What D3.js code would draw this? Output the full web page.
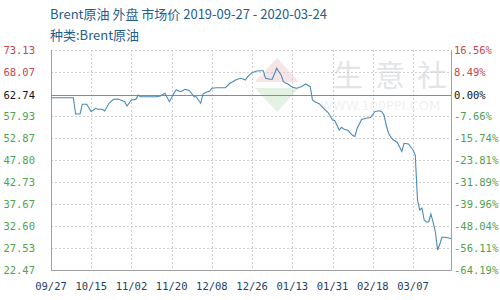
<!DOCTYPE html>
<html>
<head>
<meta charset="utf-8">
<script src="https://cdn.jsdelivr.net/npm/d3@7"></script>
<style>
  body { margin: 0; background: #fff; }
  svg { display: block; }
</style>
</head>
<body>
<script>
const title = "Brent原油 外盘 市场价 2019-09-27 - 2020-03-24";
const subtitle = "种类:Brent原油";
const basePrice = 62.74;

const yTicks = [73.13, 68.07, 62.74, 57.93, 52.87, 47.80, 42.73, 37.67, 32.60, 27.53, 22.47];
const pctTicks = ["16.56%", "8.49%", "0.00%", "-7.66%", "-15.74%", "-23.81%", "-31.89%", "-39.96%", "-48.04%", "-56.11%", "-64.19%"];
const xTicks = ["2019-09-27", "2019-10-15", "2019-11-02", "2019-11-20", "2019-12-08", "2019-12-26", "2020-01-13", "2020-01-31", "2020-02-18", "2020-03-07"];

// price readings (date, USD/bbl)
const dates = [
  "2019-09-27", "2019-10-07", "2019-10-08", "2019-10-10", "2019-10-11", "2019-10-13", "2019-10-15", "2019-10-17",
  "2019-10-18", "2019-10-20", "2019-10-21", "2019-10-23", "2019-10-25", "2019-10-27", "2019-10-29", "2019-10-30",
  "2019-10-31", "2019-11-02", "2019-11-04", "2019-11-05", "2019-11-06", "2019-11-08", "2019-11-11", "2019-11-13",
  "2019-11-15", "2019-11-17", "2019-11-19", "2019-11-21", "2019-11-22", "2019-11-24", "2019-11-26", "2019-11-28",
  "2019-11-30", "2019-12-01", "2019-12-03", "2019-12-04", "2019-12-05", "2019-12-07", "2019-12-08", "2019-12-10",
  "2019-12-12", "2019-12-14", "2019-12-16", "2019-12-18", "2019-12-19", "2019-12-21", "2019-12-23", "2019-12-24",
  "2019-12-26", "2019-12-28", "2019-12-30", "2019-12-31", "2020-01-01", "2020-01-03", "2020-01-04", "2020-01-06",
  "2020-01-07", "2020-01-08", "2020-01-09", "2020-01-10", "2020-01-11", "2020-01-13", "2020-01-15", "2020-01-17",
  "2020-01-19", "2020-01-21", "2020-01-22", "2020-01-23", "2020-01-25", "2020-01-27", "2020-01-29", "2020-01-31",
  "2020-02-01", "2020-02-03", "2020-02-04", "2020-02-05", "2020-02-07", "2020-02-09", "2020-02-10", "2020-02-11",
  "2020-02-13", "2020-02-15", "2020-02-17", "2020-02-19", "2020-02-21", "2020-02-22", "2020-02-23", "2020-02-24",
  "2020-02-25", "2020-02-26", "2020-02-27", "2020-02-28", "2020-02-29", "2020-03-01", "2020-03-02", "2020-03-03",
  "2020-03-05", "2020-03-06", "2020-03-07", "2020-03-08", "2020-03-09", "2020-03-10", "2020-03-11", "2020-03-12",
  "2020-03-13", "2020-03-14", "2020-03-15", "2020-03-16", "2020-03-17", "2020-03-18", "2020-03-19", "2020-03-20",
  "2020-03-22", "2020-03-24"
];
const prices = [
  62.15, 62.15, 58.39, 58.39, 60.63, 60.63, 58.92, 59.71,
  59.48, 59.48, 59.08, 60.86, 61.78, 61.85, 61.46, 61.23,
  60.24, 61.62, 61.78, 62.74, 62.36, 62.36, 62.36, 62.36,
  62.52, 63.16, 61.23, 63.16, 63.92, 63.53, 64.08, 63.76,
  62.36, 62.36, 60.86, 63.00, 63.30, 63.69, 64.31, 64.45,
  64.45, 64.45, 65.46, 65.99, 66.34, 66.61, 66.22, 66.98,
  67.90, 68.29, 68.36, 68.36, 66.61, 66.38, 66.38, 68.92,
  68.13, 67.37, 65.83, 65.53, 65.30, 64.54, 64.31, 64.68,
  65.30, 64.68, 61.62, 61.23, 60.76, 59.71, 58.74, 57.01,
  56.85, 54.71, 55.33, 54.94, 54.59, 53.44, 53.21, 55.10,
  57.13, 57.40, 57.59, 58.97, 59.15, 58.92, 58.16, 55.86,
  54.02, 53.10, 52.52, 52.17, 51.83, 50.79, 49.76, 51.65,
  51.48, 50.79, 50.10, 48.95, 38.59, 36.29, 36.75, 33.98,
  33.52, 33.52, 35.36, 33.52, 31.22, 27.08, 28.46, 30.07,
  29.95, 29.72
];

const width = 500, height = 300;
const marginTop = 50, marginBottom = 30, marginLeft = 51, marginRight = 49;
const parse = d3.utcParse("%Y-%m-%d");
const fmt = d3.utcFormat("%m/%d");

const data = dates.map((d, i) => ({date: parse(d), value: prices[i]}));

const x = d3.scaleUtc()
    .domain([parse("2019-09-27"), parse("2020-03-24")])
    .range([marginLeft, width - marginRight]);

const y = d3.scaleLinear()
    .domain([22.47, 73.13])
    .range([height - marginBottom, marginTop]);

const svg = d3.select("body").append("svg")
    .attr("width", width)
    .attr("height", height);

const mono = "'DejaVu Sans Mono', monospace";
const cjk = "'Noto Sans CJK SC', 'Noto Sans', sans-serif";

// watermark
const wm = svg.append("g").attr("opacity", 0.28);
wm.append("path")
    .attr("d", "M255,82 L277,58 L299,82 Z")
    .attr("fill", "#e8a0a0");
wm.append("path")
    .attr("d", "M255,88 L277,112 L299,88 Z")
    .attr("fill", "#9cd49c");
wm.selectAll("text.wm")
    .data(["生", "意", "社"])
    .join("text")
    .attr("x", (d, i) => 333 + i * 42)
    .attr("y", 86)
    .attr("font-family", cjk)
    .attr("font-size", 30)
    .attr("fill", "#9aa3ad")
    .text(d => d);
wm.append("text")
    .attr("x", 320).attr("y", 110)
    .attr("font-family", "'DejaVu Sans', sans-serif")
    .attr("font-size", 13)
    .attr("fill", "#c7cdd3")
    .text("WWW.100PPI.COM");

// grid
svg.append("g")
    .selectAll("line")
    .data(yTicks)
    .join("line")
    .attr("x1", marginLeft).attr("x2", width - marginRight)
    .attr("y1", d => Math.round(y(d)) + 0.5).attr("y2", d => Math.round(y(d)) + 0.5)
    .attr("stroke", "#cfcfcf")
    .attr("stroke-dasharray", "2,2");

svg.append("g")
    .selectAll("line")
    .data(xTicks.slice(1))
    .join("line")
    .attr("x1", d => Math.round(x(parse(d))) + 0.5).attr("x2", d => Math.round(x(parse(d))) + 0.5)
    .attr("y1", marginTop).attr("y2", height - marginBottom)
    .attr("stroke", "#cfcfcf")
    .attr("stroke-dasharray", "2,2");

// frame
svg.append("path")
    .attr("d", `M${marginLeft + 0.5},${marginTop}V${height - marginBottom + 0.5}H${width - marginRight + 0.5}V${marginTop}`)
    .attr("fill", "none")
    .attr("stroke", "#a0a0a0");

// base line
svg.append("line")
    .attr("x1", marginLeft).attr("x2", width - marginRight)
    .attr("y1", Math.round(y(basePrice)) + 0.5).attr("y2", Math.round(y(basePrice)) + 0.5)
    .attr("stroke", "#8a8a8a");

// price line
svg.append("path")
    .datum(data)
    .attr("fill", "none")
    .attr("stroke", "#4a8ab8")
    .attr("stroke-width", 1.1)
    .attr("d", d3.line()
        .x(d => x(d.date))
        .y(d => y(d.value)));

const colorFor = v => v > basePrice + 0.001 ? "#c8454b" : (v < basePrice - 0.001 ? "#4ea24e" : "#111");

// left labels
svg.append("g")
    .attr("font-family", mono)
    .attr("font-size", 10.5)
    .selectAll("text")
    .data(yTicks)
    .join("text")
    .attr("x", 35)
    .attr("y", d => y(d) + 4)
    .attr("text-anchor", "end")
    .attr("fill", colorFor)
    .text(d => d.toFixed(2));

// right labels
svg.append("g")
    .attr("font-family", mono)
    .attr("font-size", 10.5)
    .selectAll("text")
    .data(yTicks)
    .join("text")
    .attr("x", 454)
    .attr("y", d => y(d) + 4)
    .attr("fill", colorFor)
    .text((d, i) => pctTicks[i]);

// x labels
svg.append("g")
    .attr("font-family", mono)
    .attr("font-size", 10.5)
    .attr("fill", "#1d3f60")
    .selectAll("text")
    .data(xTicks)
    .join("text")
    .attr("x", d => x(parse(d)))
    .attr("y", 290)
    .attr("text-anchor", "middle")
    .text(d => fmt(parse(d)));

// titles
svg.append("text")
    .attr("x", 50).attr("y", 19)
    .attr("font-family", cjk)
    .attr("font-size", 13)
    .attr("fill", "#1f5d8c")
    .text(title);

svg.append("text")
    .attr("x", 50).attr("y", 40)
    .attr("font-family", cjk)
    .attr("font-size", 13)
    .attr("fill", "#1f5d8c")
    .text(subtitle);
</script>
</body>
</html>
